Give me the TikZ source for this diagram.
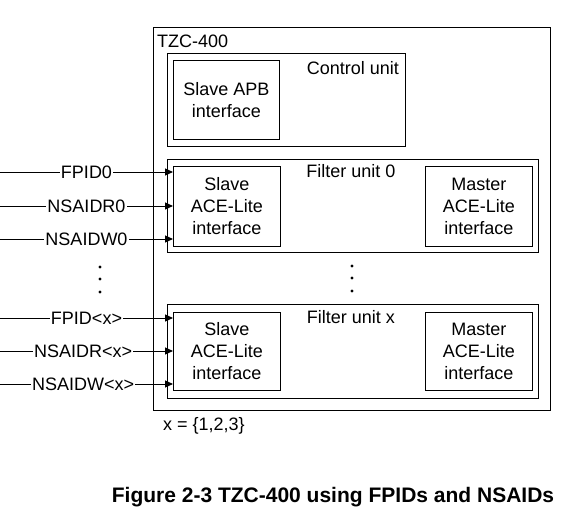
\documentclass[tikz,border=0pt]{standalone}
\usepackage{fontspec}
\setmainfont{Liberation Sans}
\usetikzlibrary{arrows.meta,positioning}

\begin{document}
\begin{tikzpicture}[x=1pt,y=-1pt,
    txt/.style={font=\fontsize{18}{22}\selectfont,inner sep=0pt},
    box/.style={draw,line width=0.9pt,anchor=north west,inner sep=0pt,align=center,txt},
    sig/.style={-{Triangle[length=8pt,width=7pt]},line width=0.9pt},
    lbl/.style={txt,fill=white,inner xsep=1pt,inner ysep=2pt},
    dot/.style={circle,fill,inner sep=0pt,minimum size=3.4pt}]
    \useasboundingbox (0,0) rectangle (587,525);

    % TZC-400 and its units
    \node[box,minimum width=397,minimum height=383] (tzc) at (153,27) {};
    \node[txt,anchor=base west] (tzcname) at (157,47) {TZC-400};

    \node[box,minimum width=238,minimum height=93] (ctrl) at (167,53) {};
    \node[txt,anchor=base east] (ctrlname) at (399,74) {Control unit};
    \node[box,minimum width=106,minimum height=79] (apb) at (173,60) {Slave APB\\interface};

    \node[box,minimum width=371,minimum height=93] (fu0) at (167,159) {};
    \node[txt,anchor=base] (fu0name) at (351,177) {Filter unit 0};
    \node[box,minimum width=107,minimum height=80] (s0) at (173,166) {Slave\\ACE-Lite\\interface};
    \node[box,minimum width=107,minimum height=80] (m0) at (425,166) {Master\\ACE-Lite\\interface};

    \node[box,minimum width=371,minimum height=94] (fux) at (167,304) {};
    \node[txt,anchor=base] (fuxname) at (351,323) {Filter unit x};
    \node[box,minimum width=107,minimum height=78] (sx) at (173,312) {Slave\\ACE-Lite\\interface};
    \node[box,minimum width=107,minimum height=78] (mx) at (425,312) {Master\\ACE-Lite\\interface};

    % input signals
    \coordinate (fpid0) at (0,172);
    \coordinate (nsr0) at (0,206);
    \coordinate (nsw0) at (0,239);
    \coordinate (fpidx) at (0,318);
    \coordinate (nsrx) at (0,351);
    \coordinate (nswx) at (0,384);

    \draw[sig] (fpid0) -- (fpid0 -| s0.west) node[lbl,pos=.5] {FPID0};
    \draw[sig] (nsr0) -- (nsr0 -| s0.west) node[lbl,pos=.5] {NSAIDR0};
    \draw[sig] (nsw0) -- (nsw0 -| s0.west) node[lbl,pos=.5] {NSAIDW0};
    \draw[sig] (fpidx) -- (fpidx -| sx.west) node[lbl,pos=.5] {FPID<x>};
    \draw[sig] (nsrx) -- (nsrx -| sx.west) node[lbl,pos=.48] {NSAIDR<x>};
    \draw[sig] (nswx) -- (nswx -| sx.west) node[lbl,pos=.48] {NSAIDW<x>};

    % dots
    \foreach \y [count=\i] in {267,279,292} {
        \node[dot] (ldot\i) at (100,\y) {};
        \node[dot] (mdot\i) at (352,\y-1) {};
    }

    \node[txt,anchor=base west] (xset) at (163,430) {x = \{1,2,3\}};
    \node[font=\fontsize{21}{24}\selectfont\bfseries,inner sep=0pt] (caption) at (333,497) {Figure 2-3 TZC-400 using FPIDs and NSAIDs};
\end{tikzpicture}
\end{document}
